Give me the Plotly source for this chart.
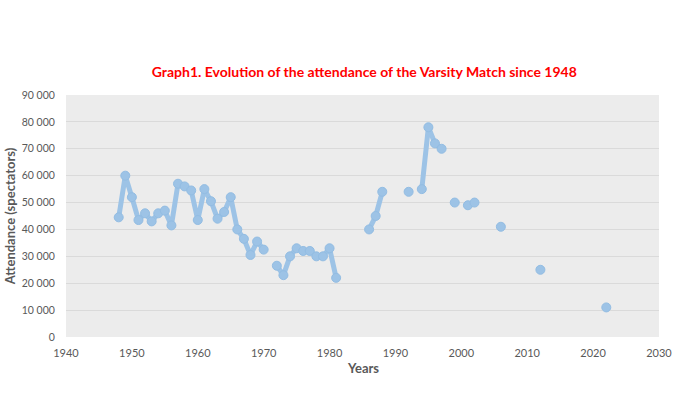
import plotly.graph_objects as go

# Observed years and attendance (spectators)
years = [1948, 1949, 1950, 1951, 1952, 1953, 1954, 1955, 1956, 1957, 1958, 1959,
         1960, 1961, 1962, 1963, 1964, 1965, 1966, 1967, 1968, 1969, 1970,
         1972, 1973, 1974, 1975, 1976, 1977, 1978, 1979, 1980, 1981,
         1986, 1987, 1988, 1992, 1994, 1995, 1996, 1997, 1999, 2001, 2002,
         2006, 2012, 2022]
attendance = [44500, 60000, 52000, 43500, 46000, 43000, 46000, 47000, 41500, 57000, 56000, 54500,
              43500, 55000, 50500, 44000, 46500, 52000, 40000, 36500, 30500, 35500, 32500,
              26500, 23000, 30000, 33000, 32000, 32000, 30000, 30000, 33000, 22000,
              40000, 45000, 54000, 54000, 55000, 78000, 72000, 70000, 50000, 49000, 50000,
              41000, 25000, 11000]

x_ticks = list(range(1940, 2031, 10))
y_ticks = list(range(0, 90001, 10000))

# Full yearly axis with gaps (no line across missing years)
lookup = dict(zip(years, attendance))
all_years = list(range(years[0], years[-1] + 1))
all_values = [lookup.get(y) for y in all_years]

LINE_COLOR = "#9dc3e6"
GREY = "#595959"
FONT = "Lato"

fig = go.Figure()
fig.add_trace(go.Scatter(
    x=all_years, y=all_values, mode="lines+markers",
    connectgaps=False,
    line=dict(color=LINE_COLOR, width=5),
    marker=dict(color=LINE_COLOR, size=9, line=dict(color="#93bde3", width=1)),
    showlegend=False,
))

fig.update_layout(
    width=690, height=414,
    margin=dict(l=66, r=31, t=95, b=77),
    paper_bgcolor="white",
    plot_bgcolor="#ececec",
    separators=". ",
    font=dict(family=FONT, color=GREY, size=11),
    title=dict(
        text="<b>Graph1. Evolution of the attendance of the Varsity Match since 1948</b>",
        font=dict(family=FONT, color="#ff0000", size=14),
        x=0.528, xanchor="center", y=0.826, yanchor="middle",
    ),
    xaxis=dict(
        range=[1940, 2030], tickvals=x_ticks, showgrid=False, zeroline=False,
        ticks="outside", ticklen=6, tickcolor="rgba(0,0,0,0)",
        tickfont=dict(family=FONT, color=GREY, size=11),
        automargin=False,
    ),
    yaxis=dict(
        range=[0, 90000], tickvals=y_ticks, tickformat=",d",
        showgrid=True, gridcolor="#dadada", gridwidth=1, zeroline=False,
        ticks="outside", ticklen=8, tickcolor="rgba(0,0,0,0)",
        tickfont=dict(family=FONT, color=GREY, size=10.5),
        automargin=False,
    ),
    annotations=[
        dict(text="<b>Years</b>", xref="paper", yref="paper", x=0.5, y=-0.13,
             xanchor="center", yanchor="middle", showarrow=False,
             font=dict(family=FONT, color=GREY, size=13)),
        dict(text="<b>Attendance (spectators)</b>", xref="paper", yref="paper",
             x=-0.094, y=0.5, textangle=-90, xanchor="center", yanchor="middle",
             showarrow=False, font=dict(family=FONT, color=GREY, size=13)),
    ],
)

fig.write_html("out.html")
